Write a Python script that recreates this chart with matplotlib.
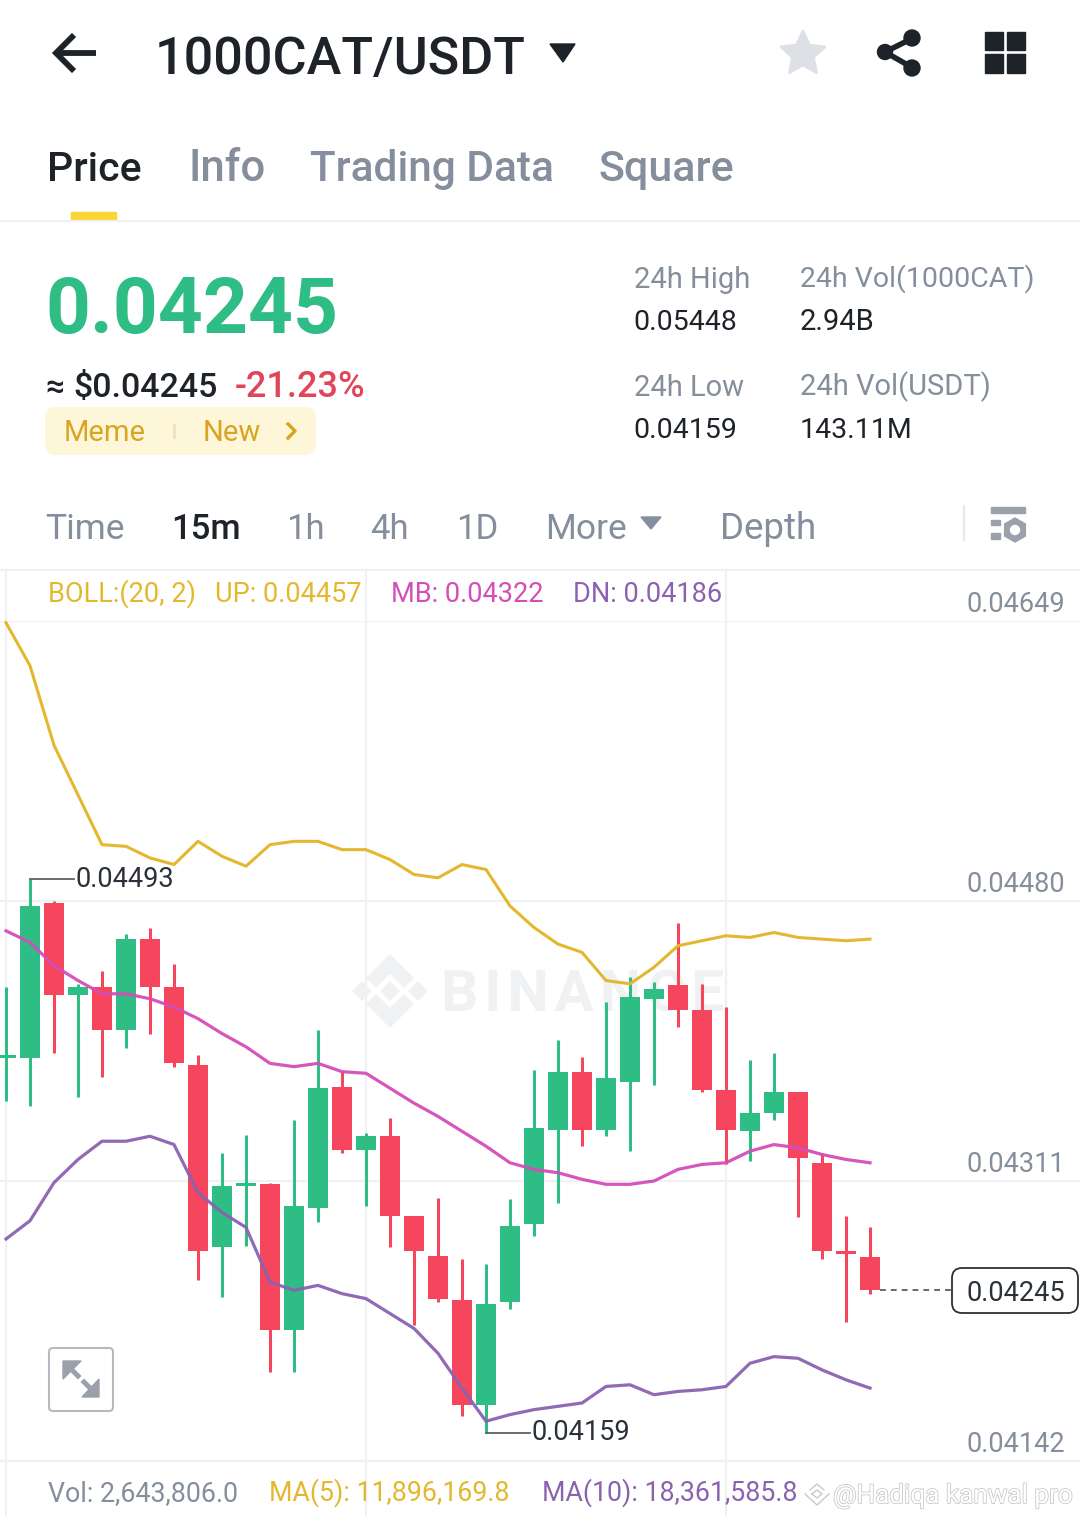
import numpy as np
import matplotlib
matplotlib.use("Agg")
import matplotlib.pyplot as plt
import matplotlib.patheffects as pe
from matplotlib.patches import FancyBboxPatch, Polygon, Circle, Rectangle

plt.rcParams['font.family'] = ['Roboto', 'DejaVu Sans']

# 15m candles
opens = [0.04385, 0.04385, 0.04479, 0.04423, 0.04428, 0.04402, 0.04457, 0.04428, 0.04381,
         0.04271, 0.04308, 0.04309, 0.04221, 0.04295, 0.04368, 0.04330, 0.04338, 0.04290,
         0.04266, 0.04239, 0.04176, 0.04238, 0.04285, 0.04342, 0.04377, 0.04342, 0.04371,
         0.04421, 0.04429, 0.04414, 0.04366, 0.04341, 0.04352, 0.04365, 0.04322, 0.04269,
         0.04265]
highs = [0.04428, 0.04493, 0.04480, 0.04430, 0.04438, 0.04460, 0.04464, 0.04442, 0.04387,
         0.04328, 0.04339, 0.04310, 0.04348, 0.04402, 0.04377, 0.04340, 0.04349, 0.04290,
         0.04301, 0.04264, 0.04261, 0.04300, 0.04378, 0.04396, 0.04386, 0.04419, 0.04434,
         0.04431, 0.04467, 0.04430, 0.04416, 0.04384, 0.04388, 0.04365, 0.04328, 0.04290,
         0.04283]
lows = [0.04359, 0.04356, 0.04388, 0.04362, 0.04374, 0.04391, 0.04400, 0.04380, 0.04251,
        0.04241, 0.04272, 0.04196, 0.04196, 0.04286, 0.04328, 0.04296, 0.04271, 0.04224,
        0.04238, 0.04169, 0.04159, 0.04234, 0.04278, 0.04298, 0.04332, 0.04338, 0.04329,
        0.04369, 0.04404, 0.04365, 0.04321, 0.04323, 0.04348, 0.04289, 0.04264, 0.04226,
        0.04243]
closes = [0.04387, 0.04477, 0.04423, 0.04428, 0.04402, 0.04457, 0.04428, 0.04382, 0.04269,
          0.04308, 0.04310, 0.04221, 0.04296, 0.04367, 0.04330, 0.04338, 0.04290, 0.04269,
          0.04240, 0.04176, 0.04237, 0.04284, 0.04343, 0.04377, 0.04342, 0.04373, 0.04422,
          0.04427, 0.04414, 0.04366, 0.04342, 0.04352, 0.04365, 0.04325, 0.04269, 0.04267,
          0.04245]

# Bollinger bands (20, 2)
boll_up = [0.04648, 0.04622, 0.04574, 0.04544, 0.04514, 0.04513, 0.04506, 0.04502, 0.04516,
           0.04507, 0.04501, 0.04514, 0.04516, 0.04516, 0.04511, 0.04511, 0.04505, 0.04496,
           0.04494, 0.04502, 0.04499, 0.04477, 0.04464, 0.04454, 0.04449, 0.04432, 0.04430,
           0.04440, 0.04453, 0.04456, 0.04459, 0.04458, 0.04461, 0.04458, 0.04457, 0.04456,
           0.04457]
boll_mb = [0.04462, 0.04455, 0.04441, 0.04432, 0.04424, 0.04424, 0.04421, 0.04416, 0.04409,
           0.04400, 0.04392, 0.04382, 0.04380, 0.04382, 0.04377, 0.04376, 0.04367, 0.04358,
           0.04350, 0.04341, 0.04332, 0.04322, 0.04318, 0.04316, 0.04312, 0.04309, 0.04309,
           0.04311, 0.04318, 0.04321, 0.04322, 0.04329, 0.04333, 0.04331, 0.04327, 0.04324,
           0.04322]
boll_dn = [0.04276, 0.04287, 0.04310, 0.04324, 0.04335, 0.04335, 0.04338, 0.04333, 0.04304,
           0.04292, 0.04283, 0.04250, 0.04245, 0.04248, 0.04243, 0.04240, 0.04231, 0.04222,
           0.04207, 0.04186, 0.04166, 0.04170, 0.04173, 0.04175, 0.04177, 0.04187, 0.04188,
           0.04182, 0.04184, 0.04185, 0.04187, 0.04201, 0.04205, 0.04204, 0.04197, 0.04191,
           0.04186]

price_ticks = [0.04649, 0.04480, 0.04311, 0.04142]
last_price = 0.04245

DARK = '#1E2329'
GRAY = '#848E9C'
GREEN = '#2EBD85'
RED = '#F6465D'
GOLD = '#E3B82F'
MAGENTA = '#D44DB8'
PURPLE = '#8A62B0'
GRID = '#F0F1F3'

fig = plt.figure(figsize=(10.8, 15.16), dpi=100, facecolor='white')

# ui layer works in screen pixels, y going down
ui = fig.add_axes([0, 0, 1, 1], zorder=0)
ui.set_xlim(0, 1080)
ui.set_ylim(1516, 0)
ui.axis('off')


def label(x, y, s, size, color=GRAY, weight='normal', ha='left'):
    return ui.text(x, y, s, fontsize=size, color=color, fontweight=weight, ha=ha, va='baseline')


def rule(y, x0=0, x1=1080):
    ui.plot([x0, x1], [y, y], color=GRID, lw=1.6, solid_capstyle='butt')


# header
ui.plot([96, 57], [53, 53], color=DARK, lw=4.2, solid_capstyle='butt')
ui.plot([72, 56, 72], [37, 53, 69], color=DARK, lw=4.2, solid_joinstyle='miter')
label(155, 74, '1000CAT/USDT', 37.5, DARK, 500)
ui.add_patch(Polygon([(550, 44), (575, 44), (563, 62)], color=DARK))

angles = np.pi / 2 + np.arange(10) * np.pi / 5
radii = np.where(np.arange(10) % 2 == 0, 23, 11)
ui.add_patch(Polygon(np.c_[803 + radii * np.cos(angles), 54 - radii * np.sin(angles)],
                     color='#DDE0E4', joinstyle='round', lw=2))

ui.plot([913, 885, 913], [38, 52, 68], color=DARK, lw=4)
for cx, cy, r in [(885, 52, 7.5), (912, 38, 8), (912, 68, 8)]:
    ui.add_patch(Circle((cx, cy), r, color=DARK))
for x0, y0, h in [(985, 32, 18), (1007, 32, 18), (985, 54, 19), (1007, 54, 19)]:
    ui.add_patch(Rectangle((x0, y0), 18, h, color=DARK))

# tabs
label(47, 181, 'Price', 29.5, DARK, 500)
label(188, 181, 'Info', 31.5, GRAY, 500)
label(310, 181, 'Trading Data', 30.5, GRAY, 500)
label(598, 181, 'Square', 31, GRAY, 500)
ui.add_patch(Rectangle((71, 212), 45, 8, color='#FCD535'))
rule(221)

# price block
label(45, 333, '0.04245', 56.5, GREEN, 'bold')
label(45, 397, '≈', 24, DARK, 500)
label(73, 397, '$0.04245', 24.5, DARK, 500)
label(235, 397, '-21.23%', 26, '#E0455B', 500)
ui.add_patch(FancyBboxPatch((45, 407), 271, 48, boxstyle='round,pad=0,rounding_size=11',
                            fc='#FEF6D8', ec='none'))
label(64, 441, 'Meme', 21, '#D9A520')
ui.plot([174, 174], [425, 437], color='#EFE3B8', lw=2)
label(203, 441, 'New', 21, '#D9A520')
ui.plot([288, 295, 288], [424, 431, 438], color='#D9A520', lw=2.4)

label(634, 288, '24h High', 21)
label(633, 330, '0.05448', 20.5, DARK)
label(800, 287, '24h Vol(1000CAT)', 20.5)
label(800, 330, '2.94B', 21, DARK)
label(634, 396, '24h Low', 21)
label(633, 438, '0.04159', 20.5, DARK)
label(800, 395, '24h Vol(USDT)', 21)
label(800, 438, '143.11M', 20.5, DARK)

# interval row
label(45, 539, 'Time', 25.5)
label(171, 539, '15m', 25, DARK, 500)
label(286, 539, '1h', 25)
label(370, 539, '4h', 25)
label(456, 539, '1D', 25)
label(545, 539, 'More', 25.5)
ui.add_patch(Polygon([(641, 517), (661, 517), (651, 529)], color=GRAY))
label(720, 539, 'Depth', 26.5)
ui.plot([964, 964], [506, 540], color='#E6E8EA', lw=1.6)
ui.add_patch(Rectangle((991, 507), 34, 6, color='#9AA1AB'))
ui.add_patch(Rectangle((991, 520), 9, 5, color='#9AA1AB'))
ui.add_patch(Rectangle((991, 533), 9, 6, color='#9AA1AB'))
hex_angles = np.pi / 2 + np.arange(6) * np.pi / 3
ui.add_patch(Polygon(np.c_[1015 + 12 * np.cos(hex_angles), 530 + 12 * np.sin(hex_angles)], color='#9AA1AB'))
ui.add_patch(Circle((1015, 530), 4.5, color='white'))
rule(570)

# chart frame lines that run past the plot area
for x in [6, 366, 726]:
    ui.plot([x, x], [570, 1516], color=GRID, lw=1.6, solid_capstyle='butt')

# faint logo behind the candles
LOGO = '#EFF1F2'
cx, cy = 390, 991
chevron = np.array([(0, -36), (23, -13), (14, -4), (0, -18), (-14, -4), (-23, -13)])
ui.add_patch(Polygon(chevron + (cx, cy), color=LOGO))
ui.add_patch(Polygon(chevron * (1, -1) + (cx, cy), color=LOGO))
diamond = np.array([(0, -9), (9, 0), (0, 9), (-9, 0)])
for dx in [-28, 0, 28]:
    ui.add_patch(Polygon(diamond + (cx + dx, cy), color=LOGO))
label(441, 1012, 'B\u200aI\u200aN\u200aA\u200aN\u200aC\u200aE', 42, LOGO, 'bold')

# indicator legend
label(48, 602, 'BOLL:(20, 2)', 19.5, GOLD)
label(215, 602, 'UP: 0.04457', 19.5, GOLD)
label(391, 602, 'MB: 0.04322', 19.5, MAGENTA)
label(573, 602, 'DN: 0.04186', 19.5, PURPLE)

# expand button
ui.add_patch(FancyBboxPatch((49, 1348), 64, 63, boxstyle='round,pad=0,rounding_size=4',
                            fc='white', ec='#B5BAC1', lw=1.5))
ui.add_patch(Polygon([(63, 1361), (81, 1361), (63, 1379)], color='#9AA1AB'))
ui.add_patch(Polygon([(99, 1397), (82, 1397), (99, 1379)], color='#9AA1AB'))
ui.plot([70, 78], [1368, 1376], color='#9AA1AB', lw=3.6)
ui.plot([84, 92], [1382, 1390], color='#9AA1AB', lw=3.6)

# current price tag
ui.add_patch(FancyBboxPatch((952, 1268), 126, 45, boxstyle='round,pad=0,rounding_size=10',
                            fc='white', ec='#2B3139', lw=1.3))
label(967, 1301, '0.04245', 19.5, '#2B3139')

# volume row
rule(1461)
label(48, 1501, 'Vol: 2,643,806.0', 19.3)
label(269, 1501, 'MA(5): 11,896,169.8', 19.3, GOLD)
label(542, 1501, 'MA(10): 18,361,585.8', 19.3, PURPLE)

# outlined reposter mark
MARK = '#C6CACE'
ui.plot([805, 817, 829], [1494, 1505, 1494], color=MARK, lw=1)
ui.plot([810, 817, 824], [1490, 1484, 1490], color=MARK, lw=1)
ui.plot([812, 817, 822, 817, 812], [1494, 1490, 1494, 1498, 1494], color=MARK, lw=1)
mark = label(833, 1503, '@Hadiqa kanwal pro', 18.8, 'white')
mark.set_path_effects([pe.withStroke(linewidth=1.2, foreground=MARK)])

# price chart, x is candle number
ax = fig.add_axes([0, 1 - 1461 / 1516, 1, (1461 - 621) / 1516], zorder=1)
ax.patch.set_alpha(0)
ax.set_xlim(-0.25, 44.75)
ax.set_ylim(price_ticks[-1], price_ticks[0])
ax.set_xticks([])
ax.set_yticks(price_ticks)
ax.tick_params(left=False, labelleft=False)
ax.grid(axis='y', color=GRID, lw=1.6)
ax.set_axisbelow(True)
for side in ax.spines.values():
    side.set_visible(False)

idx = np.arange(len(opens))
o = np.array(opens)
c = np.array(closes)
colors = [GREEN if cl >= op else RED for op, cl in zip(o, c)]
ax.vlines(idx, lows, highs, colors=colors, lw=2.2, clip_on=False)
ax.bar(idx, np.abs(c - o), bottom=np.minimum(o, c), width=0.86, color=colors)

ax.plot(idx, boll_up, color=GOLD, lw=2.2, clip_on=False)
ax.plot(idx, boll_mb, color=MAGENTA, lw=2.3, alpha=0.95)
ax.plot(idx, boll_dn, color=PURPLE, lw=2.3, alpha=0.95)

for tick in price_ticks:
    ax.annotate(f'{tick:.5f}', xy=(1, tick), xycoords=ax.get_yaxis_transform(), xytext=(-11, 6.5),
                textcoords='offset points', ha='right', va='baseline', fontsize=19.5, color=GRAY,
                annotation_clip=False)

# high and low call-outs
hi_i = int(np.argmax(highs))
lo_i = int(np.argmin(lows))
ax.plot([hi_i, hi_i + 1.85], [highs[hi_i], highs[hi_i]], color='#5A6068', lw=1.3)
ax.text(hi_i + 1.88, highs[hi_i], f'{highs[hi_i]:.5f}', fontsize=19.5, color='#2B3139', va='center')
ax.plot([lo_i, lo_i + 1.85], [lows[lo_i], lows[lo_i]], color='#5A6068', lw=1.3)
ax.text(lo_i + 1.88, lows[lo_i], f'{lows[lo_i]:.5f}', fontsize=19.5, color='#2B3139', va='center')

ax.plot([36.4, 39.4], [last_price, last_price], color='#4A4F57', lw=1.2, ls=(0, (3.5, 3)))

fig.savefig('out.png', dpi=100)
